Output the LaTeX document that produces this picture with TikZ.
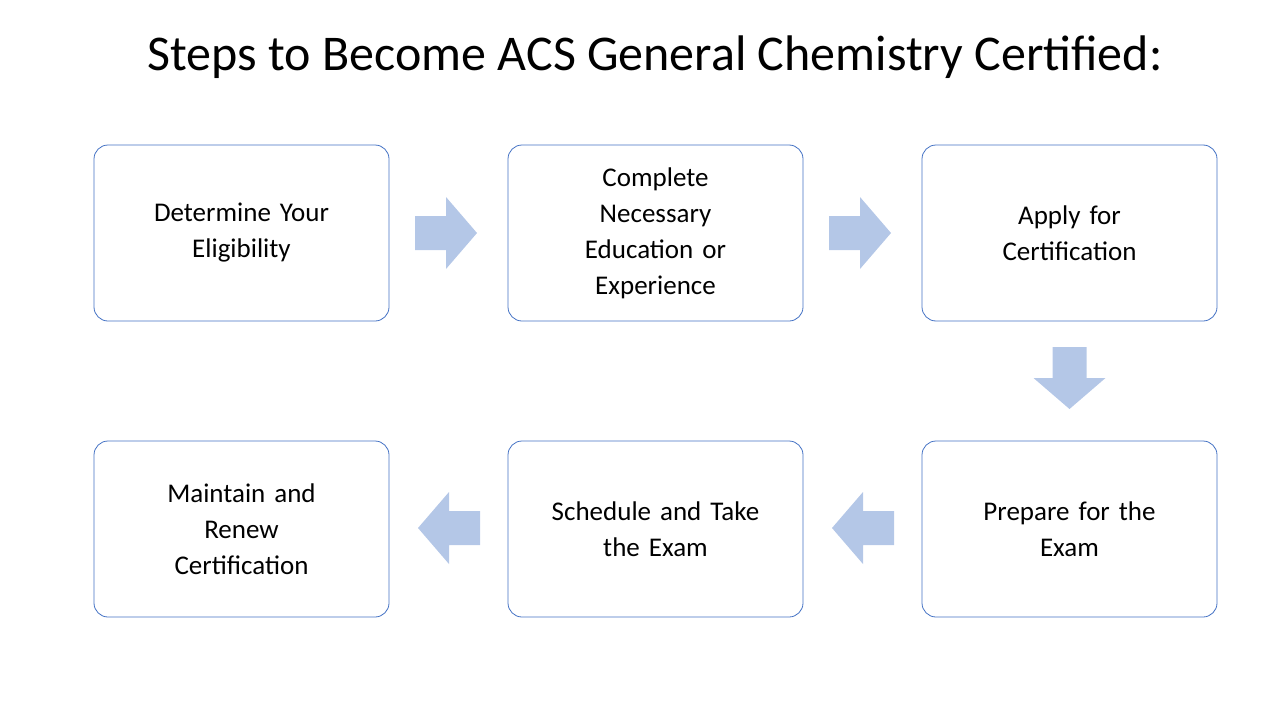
\documentclass[tikz,border=0pt]{standalone}
\usepackage{fontspec}
\setmainfont{Carlito}
\usetikzlibrary{calc}
\definecolor{boxline}{RGB}{68,114,196}
\definecolor{arrowfill}{RGB}{180,199,231}
\tikzset{
  stepbox/.style={draw=boxline, line width=0.8pt, rounded corners=14pt, minimum width=295pt, minimum height=176pt, align=center, text width=260pt, font=\fontsize{27}{36}\selectfont},
}
% block arrow pointing right, centred at #1
\newcommand{\rarrow}[2]{\fill[arrowfill,rotate around={#2:#1}] ($#1+(-31,-17)$) -- ($#1+(0,-17)$) -- ($#1+(0,-36)$) -- ($#1+(31,0)$) -- ($#1+(0,36)$) -- ($#1+(0,17)$) -- ($#1+(-31,17)$) -- cycle;}

\begin{document}
\begin{tikzpicture}[x=1pt,y=1pt]
  \useasboundingbox (0,0) rectangle (1280,-720);
  \node[font=\fontsize{50}{60}\selectfont] (title) at (655,-57) {Steps to Become ACS General Chemistry Certified:};

  \node[stepbox] (s1) at (241.5,-233) {Determine Your\\Eligibility};
  \node[stepbox] (s2) at (655.5,-233) {Complete\\Necessary\\Education or\\Experience};
  \node[stepbox] (s3) at (1069.5,-233) {Apply for\\Certification};
  \node[stepbox] (s4) at (1069.5,-529) {Prepare for the\\Exam};
  \node[stepbox] (s5) at (655.5,-529) {Schedule and Take\\the Exam};
  \node[stepbox] (s6) at (241.5,-529) {Maintain and\\Renew\\Certification};

  \rarrow{(446,-233)}{0}
  \rarrow{(860,-233)}{0}
  \rarrow{(1069.5,-378)}{-90}
  \rarrow{(863,-528)}{180}
  \rarrow{(449,-528)}{180}
\end{tikzpicture}
\end{document}
